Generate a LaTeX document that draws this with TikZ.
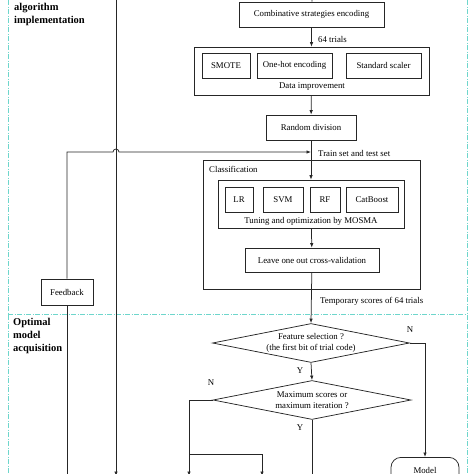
\documentclass[tikz,border=0pt]{standalone}
\usepackage{fontspec}
\setmainfont{Liberation Serif}
\usepackage{xcolor}
\definecolor{colZone}{RGB}{110,214,204}
\colorlet{colBox}{black!85}
\usetikzlibrary{arrows.meta, positioning, shapes.geometric}

\begin{document}
\begin{tikzpicture}[x=1pt, y=-1pt,
		font=\fontsize{8.8}{10.5}\selectfont,
		box/.style={draw=colBox, line width=0.75pt, inner sep=0pt, align=center},
		decision/.style={diamond, draw=colBox, line width=0.75pt, inner sep=0pt, aspect=5},
		link/.style={draw=colBox, line width=0.75pt},
		flow/.style={link, -{Latex[length=4.5pt, width=3.5pt]}},
		zone/.style={colZone, line width=1pt, dash pattern=on 5pt off 1.5pt on 1pt off 1.5pt},
		tag/.style={anchor=west, inner sep=0pt},
		zonetitle/.style={anchor=west, inner sep=0pt, align=left, font=\fontsize{10.5}{13}\selectfont\bfseries}]
	\useasboundingbox (0,0) rectangle (474,474);

	% zones
	\draw[zone] (8,0) -- (8,474);
	\draw[zone] (467,0) -- (467,474);
	\draw[zone] (8,314) -- (467,314);
	\node[zonetitle] (zoneAlgo) at (14,14) {algorithm\\implementation};
	\node[zonetitle] (zoneModel) at (13,336) {Optimal\\model\\acquisition};

	% main column
	\node[box, minimum width=145pt, minimum height=25pt] (encode) at (311.5,14.5) {Combinative strategies encoding};
	\node[box, minimum width=235pt, minimum height=48pt] (improve) at (311.5,71) {};
	\node[box, minimum width=48pt, minimum height=25pt] (smote) at (226,65.5) {SMOTE};
	\node[box, minimum width=75pt, minimum height=25pt] (onehot) at (294.5,65.5) {One-hot encoding};
	\node[box, minimum width=75pt, minimum height=25pt] (scaler) at (383.5,65.5) {Standard scaler};
	\node[inner sep=0pt] (improveText) at (312,87) {Data improvement};
	\node[box, minimum width=90pt, minimum height=25pt] (division) at (311,127.5) {Random division};

	\node[box, minimum width=217pt, minimum height=129pt] (classif) at (311.5,224.5) {};
	\node[tag] (classifText) at (209,169) {Classification};
	\node[box, minimum width=186pt, minimum height=48pt] (tuning) at (311,204) {};
	\node[box, minimum width=28pt, minimum height=25pt] (lr) at (239,199.5) {LR};
	\node[box, minimum width=40pt, minimum height=25pt] (svm) at (283,199.5) {SVM};
	\node[box, minimum width=30pt, minimum height=25pt] (rf) at (325,199.5) {RF};
	\node[box, minimum width=52pt, minimum height=25pt] (catboost) at (372,199.5) {CatBoost};
	\node[inner sep=0pt] (tuningText) at (311,221) {Tuning and optimization by MOSMA};
	\node[box, minimum width=134pt, minimum height=24pt] (loocv) at (312,260) {Leave one out cross-validation};

	\node[box, minimum width=52pt, minimum height=26pt] (feedback) at (67,292) {Feedback};

	\node[decision, minimum width=197pt, minimum height=39pt] (checkFeat) at (311,343) {};
	\node[inner sep=0pt, align=center, font=\fontsize{8.8}{11}\selectfont] (checkFeatText) at (checkFeat) {Feature selection ?\\(the first bit of trial code)};
	\node[decision, minimum width=198pt, minimum height=39pt] (checkMax) at (312,400) {};
	\node[inner sep=0pt, align=center, font=\fontsize{8.8}{11}\selectfont] (checkMaxText) at (checkMax) {Maximum scores or\\maximum iteration ?};
	\node[box, rounded corners=10pt, minimum width=68pt, minimum height=34pt, anchor=north] (model) at (425,457) {};
	\node[inner sep=0pt] (modelText) at (425,470) {Model};

	% labels on connectors
	\node[tag] (trialsText) at (318,39) {64 trials};
	\node[tag] (splitText) at (318,153) {Train set and test set};
	\node[tag] (scoresText) at (320,301) {Temporary scores of 64 trials};
	\node[inner sep=0pt] (featN) at (410,330) {N};
	\node[inner sep=0pt] (featY) at (300,371) {Y};
	\node[inner sep=0pt] (maxN) at (211,383) {N};
	\node[inner sep=0pt] (maxY) at (300,428) {Y};

	% free ends
	\coordinate (topIn) at (312,0);
	\coordinate (passTop) at (116,0);
	\coordinate (passEnd) at (116,476);
	\coordinate (fbEnd) at (67,474);
	\coordinate (fbCorner) at (67,152);
	\coordinate (trainJoin) at (311,152);
	\coordinate (nLeft) at (189,476);
	\coordinate (nSplit) at (189,454);
	\coordinate (nRight) at (262,476);
	\coordinate (yEnd) at (312,474);

	% connectors
	\draw[link] (topIn) -- (encode);
	\draw[flow] (encode) -- (improve);
	\draw[flow] (improve) -- (division);
	\draw[flow] (division) -- (tuning);
	\draw[flow] (tuning) -- (loocv);
	\draw[flow] (loocv) -- (checkFeat.north);
	\draw[flow] (checkFeat.south) -- (checkMax.north);
	\draw[flow] (checkFeat.east) -| (model.north);
	\draw[flow] (checkMax.west) -| (nLeft);
	\draw[flow] (nSplit) -| (nRight);
	\draw[link] (checkMax.south) -- (yEnd);
	\draw[flow] (passTop) -- (passEnd);
	\draw[link] (fbEnd) -- (feedback);
	\draw[flow] (feedback) -- (fbCorner) -- (113,152) arc[start angle=180, end angle=360, radius=3] -- (trainJoin);
\end{tikzpicture}
\end{document}
